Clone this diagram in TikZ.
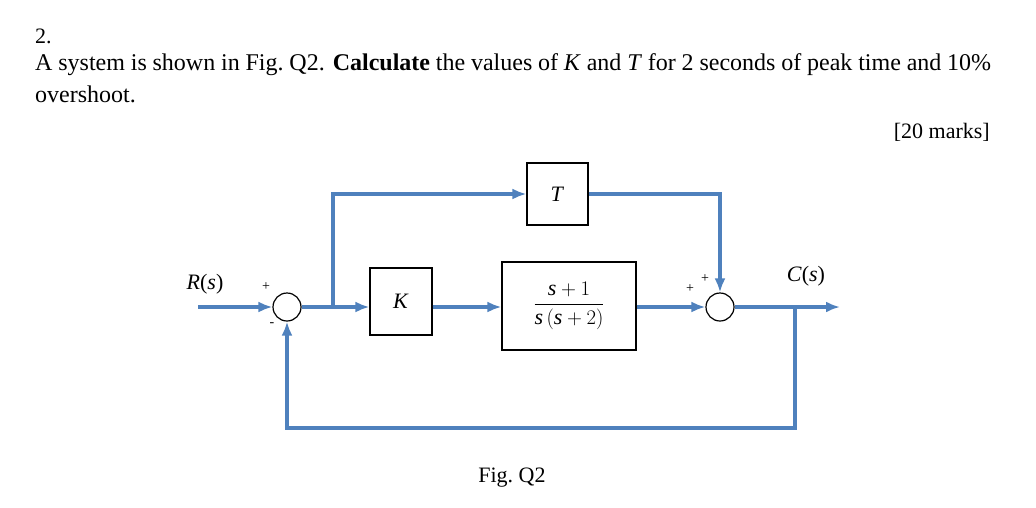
\documentclass[tikz,border=0pt]{standalone}
\usepackage{amsmath}
\usepackage{fontspec}
\setmainfont{Liberation Serif}
\usetikzlibrary{arrows.meta}
\definecolor{ln}{RGB}{79,129,189}
\newcommand{\vi}[1]{\textit{#1}}
\tikzset{blk/.style={draw=black,line width=1.2pt,inner sep=0pt},
 sig/.style={ln,line width=3.2pt,-{Latex[length=14pt,width=11pt]}},
 wire/.style={ln,line width=3.2pt},
 sumc/.style={circle,draw=black,line width=1.2pt,minimum size=28pt,inner sep=0pt,fill=white}}
\begin{document}
\begin{tikzpicture}[x=1pt,y=-1pt,font=\fontsize{22}{32}\selectfont]
\useasboundingbox (0,0) rectangle (1036,507);
\node[anchor=west,inner sep=0pt] (num) at (35,36) {2.};
\node[anchor=north west,text width=956pt,align=justify,inner sep=0pt,font=\fontsize{24}{32}\selectfont] (txt) at (35,53)
 {A system is shown in Fig.\ Q2. \textbf{Calculate} the values of \vi{K} and \vi{T} for 2 seconds of peak time and 10\% overshoot.};
\node[anchor=east,inner sep=0pt] (mk) at (990,132) {[20 marks]};
\node[blk,minimum width=61pt,minimum height=62pt] (T) at (557.5,194) {\vi{T}};
\node[blk,minimum width=62pt,minimum height=67pt] (K) at (401,301.5) {\vi{K}};
\node[blk,minimum width=134pt,minimum height=88pt] (G) at (569,306) {$\dfrac{\text{\vi{s}}+1}{\text{\vi{s}}\left(\text{\vi{s}}+2\right)}$};
\node[sumc] (s1) at (287,307) {};
\node[sumc] (s2) at (720,307) {};
\node (R) at (205,284) {\vi{R}(\vi{s})};
\node (C) at (806,276) {\vi{C}(\vi{s})};
\coordinate (in) at (198,307);
\coordinate (out) at (840,307);
\coordinate (b1) at (333,307);
\coordinate (b2) at (795,307);
\draw[sig] (in) -- (s1.west);
\draw[wire] (s1.east) -- (b1);
\draw[sig] (b1) -- (b1 -| K.west);
\draw[sig] (b1) |- (T.west);
\draw[sig] (T.east) -| (s2.north);
\draw[sig] (b1 -| K.east) -- (b1 -| G.west);
\draw[sig] (b1 -| G.east) -- (s2.west);
\draw[sig] (s2.east) -- (out);
\draw[sig] (b2) |- (290,428) -| (s1.south);
\node[font=\fontsize{14}{16}\selectfont] (p1) at (266,287) {+};
\node[font=\fontsize{14}{16}\selectfont] (m1) at (272,325) {-};
\node[font=\fontsize{14}{16}\selectfont] (p2) at (690,289) {+};
\node[font=\fontsize{14}{16}\selectfont] (p3) at (705,279) {+};
\node (fig) at (512,478) {Fig.\ Q2};
\end{tikzpicture}
\end{document}
